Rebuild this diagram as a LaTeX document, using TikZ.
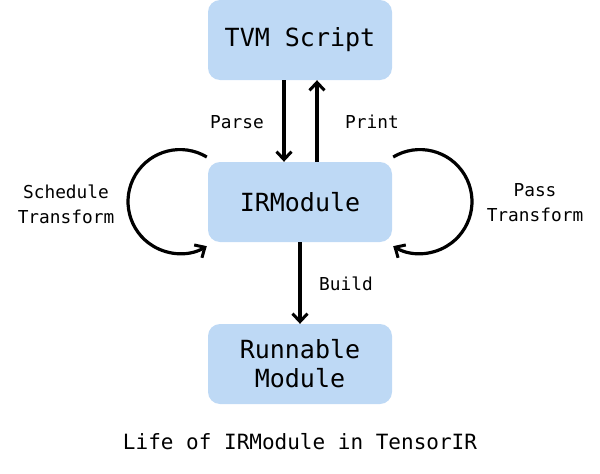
\documentclass[tikz,border=0pt]{standalone}
\usepackage{fontspec}
\setmonofont{DejaVu Sans Mono}
\usetikzlibrary{arrows.meta}
\definecolor{boxblue}{RGB}{190,217,245}
\tikzset{
  blk/.style={fill=boxblue, rounded corners=12pt, minimum width=184pt, minimum height=80pt, inner sep=0pt, align=center, font=\ttfamily\fontsize{25}{29}\selectfont},
  lbl/.style={font=\ttfamily\fontsize{17.8}{25}\selectfont, align=center},
  conn/.style={line width=3.2pt, -{Straight Barb[length=8pt,width=15pt,line width=3pt]}}
}
\begin{document}
\begin{tikzpicture}[x=1pt,y=-1pt]
\useasboundingbox (0,0) rectangle (600,474);
\node[blk] (tvm) at (300,40) {TVM Script};
\node[blk] (ir) at (300,202) {IRModule};
\node[blk] (rm) at (300,364) {Runnable\\Module};
\draw[conn] ([xshift=-16pt]tvm.south) -- ([xshift=-16pt]ir.north);
\draw[conn] ([xshift=17pt]ir.north) -- ([xshift=17pt]tvm.south);
\draw[conn] (ir.south) -- (rm.north);
\node[lbl] (parse) at (237,122) {Parse};
\node[lbl] (print) at (372,122) {Print};
\node[lbl] (build) at (346,284) {Build};
\draw[conn] ([shift={(-1,-45)}]ir.west) arc[start angle=-59, end angle=-301, radius=52];
\draw[conn] ([shift={(1,-45)}]ir.east) arc[start angle=239, end angle=481, radius=52];
\node[lbl] (sched) at (66,204) {Schedule\\Transform};
\node[lbl] (pass) at (535,203) {Pass\\Transform};
\node[font=\ttfamily\fontsize{21}{25}\selectfont] (cap) at (300,442) {Life of IRModule in TensorIR};
\end{tikzpicture}
\end{document}
